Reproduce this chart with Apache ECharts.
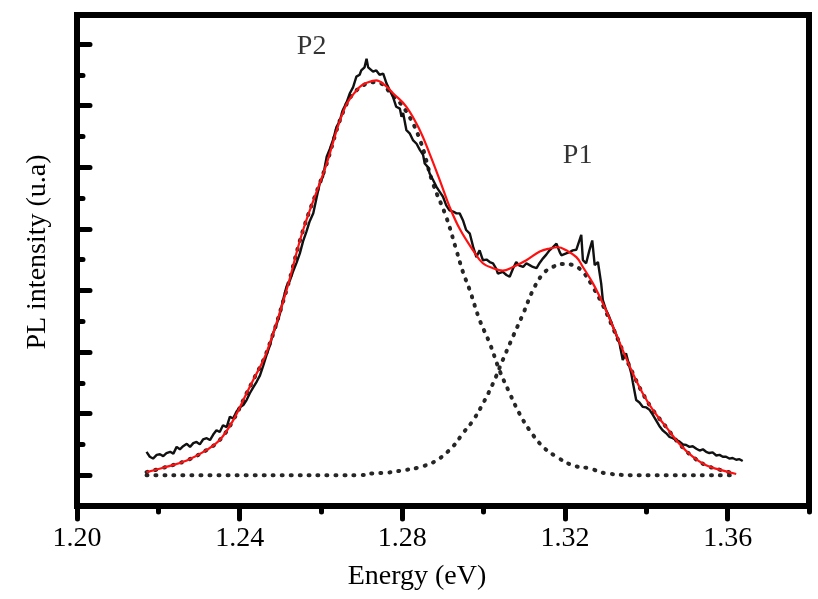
<!DOCTYPE html>
<html><head><meta charset="utf-8">
<script src="https://cdn.jsdelivr.net/npm/echarts@6/dist/echarts.min.js"></script>
<style>html,body{margin:0;padding:0;background:#fff}#c{width:818px;height:599px}</style>
</head><body><div id="c"></div>
<script>
// Tick positions
const xMajorTicks = [1.20, 1.24, 1.28, 1.32, 1.36];
const xMinorTicks = [1.22, 1.26, 1.30, 1.34, 1.38];
const yMajorTicks = [0, 1, 2, 3, 4, 5, 6, 7];
const yMinorTicks = [0.5, 1.5, 2.5, 3.5, 4.5, 5.5, 6.5];

// Measured PL spectrum [energy eV, intensity a.u.]
const measured = [
[1.2171,0.38],[1.2179,0.30],[1.2187,0.27],[1.2196,0.33],[1.2204,0.34],[1.2212,0.31],[1.2220,0.36],[1.2229,0.38],
[1.2237,0.35],[1.2245,0.46],[1.2253,0.42],[1.2261,0.47],[1.2270,0.51],[1.2278,0.46],[1.2286,0.52],[1.2294,0.54],
[1.2302,0.50],[1.2310,0.58],[1.2319,0.60],[1.2327,0.57],[1.2335,0.66],[1.2343,0.73],[1.2351,0.70],[1.2359,0.81],
[1.2368,0.78],[1.2376,0.95],[1.2384,0.92],[1.2392,1.03],[1.2400,1.10],[1.2409,1.14],[1.2417,1.22],[1.2425,1.33],
[1.2433,1.42],[1.2442,1.52],[1.2450,1.62],[1.2458,1.78],[1.2466,1.95],[1.2474,2.10],[1.2482,2.30],[1.2491,2.45],
[1.2499,2.62],[1.2507,2.85],[1.2515,3.06],[1.2523,3.15],[1.2531,3.30],[1.2540,3.45],[1.2548,3.60],[1.2556,3.80],
[1.2564,3.95],[1.2572,4.12],[1.2581,4.25],[1.2589,4.50],[1.2597,4.74],[1.2605,4.85],[1.2614,5.17],[1.2622,5.30],
[1.2630,5.45],[1.2638,5.65],[1.2646,5.75],[1.2654,5.93],[1.2663,6.05],[1.2671,6.20],[1.2679,6.30],[1.2687,6.47],
[1.2695,6.50],[1.2699,6.57],[1.2703,6.55],[1.2707,6.62],[1.2712,6.76],[1.2716,6.62],[1.2720,6.60],[1.2728,6.55],
[1.2736,6.57],[1.2744,6.50],[1.2753,6.52],[1.2761,6.36],[1.2769,6.25],[1.2777,6.14],[1.2785,5.98],[1.2794,5.95],
[1.2798,5.82],[1.2802,5.88],[1.2810,5.60],[1.2818,5.55],[1.2826,5.44],[1.2835,5.38],[1.2843,5.28],[1.2851,5.20],
[1.2855,5.06],[1.2863,5.00],[1.2867,4.90],[1.2875,4.80],[1.2884,4.68],[1.2892,4.60],[1.2900,4.52],[1.2908,4.38],
[1.2916,4.30],[1.2925,4.28],[1.2933,4.25],[1.2941,4.25],[1.2949,4.14],[1.2957,3.98],[1.2966,3.92],[1.2974,3.71],
[1.2982,3.54],[1.2990,3.65],[1.2998,3.49],[1.3007,3.50],[1.3015,3.46],[1.3023,3.44],[1.3031,3.35],[1.3035,3.27],
[1.3047,3.30],[1.3056,3.25],[1.3064,3.22],[1.3072,3.35],[1.3080,3.46],[1.3088,3.40],[1.3097,3.38],[1.3105,3.44],
[1.3113,3.41],[1.3121,3.38],[1.3130,3.36],[1.3138,3.45],[1.3146,3.52],[1.3154,3.58],[1.3162,3.65],[1.3170,3.70],
[1.3179,3.76],[1.3187,3.62],[1.3191,3.57],[1.3203,3.60],[1.3211,3.62],[1.3219,3.65],[1.3228,3.66],[1.3232,3.68],
[1.3240,3.90],[1.3244,3.49],[1.3252,3.44],[1.3260,3.65],[1.3267,3.81],[1.3273,3.41],[1.3281,3.46],[1.3289,3.11],
[1.3293,2.84],[1.3301,2.68],[1.3310,2.55],[1.3318,2.41],[1.3326,2.28],[1.3334,2.14],[1.3342,1.87],[1.3350,1.98],
[1.3359,1.75],[1.3363,1.65],[1.3367,1.50],[1.3375,1.22],[1.3383,1.18],[1.3391,1.11],[1.3400,1.10],[1.3408,1.06],
[1.3416,0.98],[1.3424,0.89],[1.3432,0.80],[1.3440,0.73],[1.3449,0.68],[1.3457,0.62],[1.3465,0.60],[1.3473,0.57],
[1.3481,0.55],[1.3490,0.50],[1.3498,0.49],[1.3506,0.46],[1.3514,0.47],[1.3523,0.43],[1.3531,0.40],[1.3539,0.42],
[1.3547,0.38],[1.3555,0.36],[1.3563,0.37],[1.3572,0.32],[1.3580,0.33],[1.3588,0.30],[1.3596,0.30],[1.3604,0.27],
[1.3612,0.28],[1.3621,0.25],[1.3629,0.26],[1.3637,0.23]
];

// Total fit (red)
const fitTotal = [
[1.2171,0.05],[1.2212,0.12],[1.2270,0.24],[1.2319,0.41],[1.2351,0.57],[1.2384,0.89],[1.2417,1.33],[1.2433,1.54],
[1.2466,1.99],[1.2515,3.00],[1.2556,3.98],[1.2610,4.98],[1.2659,5.97],[1.2695,6.30],[1.2716,6.38],[1.2736,6.41],
[1.2757,6.33],[1.2777,6.20],[1.2810,5.98],[1.2843,5.60],[1.2867,5.22],[1.2892,4.79],[1.2916,4.36],[1.2941,4.00],
[1.2974,3.65],[1.2998,3.44],[1.3023,3.36],[1.3047,3.32],[1.3072,3.38],[1.3105,3.49],[1.3138,3.63],[1.3162,3.68],
[1.3183,3.70],[1.3203,3.65],[1.3228,3.54],[1.3244,3.38],[1.3269,3.11],[1.3293,2.79],[1.3318,2.41],[1.3342,2.03],
[1.3367,1.65],[1.3391,1.33],[1.3416,1.06],[1.3449,0.78],[1.3481,0.51],[1.3514,0.30],[1.3547,0.16],[1.3580,0.09],
[1.3621,0.02]
];

// Gaussian component P2 (dotted)
const peakP2 = [
[1.2171,0.05],[1.2212,0.12],[1.2270,0.24],[1.2319,0.41],[1.2351,0.57],[1.2384,0.89],[1.2417,1.33],[1.2433,1.54],
[1.2466,1.99],[1.2515,3.00],[1.2556,3.98],[1.2610,4.98],[1.2659,5.97],[1.2695,6.29],[1.2736,6.38],[1.2777,6.16],
[1.2810,5.90],[1.2843,5.45],[1.2875,4.74],[1.2908,4.19],[1.2933,3.65],[1.2949,3.30],[1.2966,3.00],[1.2990,2.52],
[1.3015,2.14],[1.3039,1.70],[1.3064,1.33],[1.3088,1.00],[1.3113,0.73],[1.3146,0.46],[1.3179,0.30],[1.3219,0.16],
[1.3260,0.11],[1.3301,0.03],[1.3383,0.00],[1.3621,0.00]
];

// Gaussian component P1 (dotted)
const peakP1 = [
[1.2171,0.00],[1.2450,0.00],[1.2695,0.00],[1.2728,0.03],[1.2761,0.04],[1.2802,0.08],[1.2843,0.13],[1.2884,0.24],
[1.2925,0.47],[1.2949,0.68],[1.2974,0.89],[1.2998,1.16],[1.3023,1.49],[1.3047,1.87],[1.3072,2.25],[1.3097,2.62],
[1.3121,3.00],[1.3146,3.27],[1.3170,3.38],[1.3195,3.43],[1.3219,3.41],[1.3244,3.30],[1.3269,3.05],[1.3293,2.76],
[1.3318,2.39],[1.3342,2.02],[1.3367,1.65],[1.3391,1.33],[1.3416,1.06],[1.3449,0.78],[1.3481,0.51],[1.3514,0.30],
[1.3547,0.16],[1.3580,0.09],[1.3621,0.02]
];

// Peak annotations
const peakLabels = [[1.2577, 6.95, 'P2'], [1.3231, 5.19, 'P1']];

const FONT = '"Liberation Serif", "Times New Roman", serif';
const chart = echarts.init(document.getElementById('c'));

const baseX = { type: 'value', min: 1.20, max: 1.38, splitLine: { show: false }, axisLine: { show: false, onZero: false } };
const baseY = { type: 'value', min: -0.5, max: 7.47, splitLine: { show: false }, axisLine: { show: false, onZero: false }, axisLabel: { show: false } };
const tickStyle = { color: '#000', width: 5, cap: 'round' };
const dotStyle = { color: '#262626', width: 4, type: [1, 8], cap: 'round' };

chart.setOption({
  animation: false,
  backgroundColor: '#fff',
  grid: [
    { left: 77, right: 9, top: 15, bottom: 93, show: true, borderColor: '#000', borderWidth: 6, backgroundColor: 'transparent' },
    { left: 77, right: 9, top: 15, bottom: 93, show: false }
  ],
  xAxis: [
    Object.assign({}, baseX, {
      gridIndex: 0, position: 'bottom',
      axisTick: { show: true, customValues: xMajorTicks, inside: false, length: 13, lineStyle: tickStyle },
      axisLabel: { show: true, customValues: xMajorTicks, formatter: v => v.toFixed(2), margin: 19,
        fontFamily: FONT, fontSize: 28, color: '#000' }
    }),
    Object.assign({}, baseX, {
      gridIndex: 1, position: 'bottom',
      axisTick: { show: true, customValues: xMinorTicks, inside: false, length: 6, lineStyle: tickStyle },
      axisLabel: { show: false }
    })
  ],
  yAxis: [
    Object.assign({}, baseY, {
      gridIndex: 0, position: 'left',
      axisTick: { show: true, customValues: yMajorTicks, inside: true, length: 13, lineStyle: tickStyle }
    }),
    Object.assign({}, baseY, {
      gridIndex: 1, position: 'left',
      axisTick: { show: true, customValues: yMinorTicks, inside: true, length: 6, lineStyle: tickStyle }
    })
  ],
  series: [
    { name: 'P2', type: 'line', xAxisIndex: 0, yAxisIndex: 0, data: peakP2, showSymbol: false, smooth: 0.4,
      lineStyle: dotStyle, z: 2 },
    { name: 'P1', type: 'line', xAxisIndex: 0, yAxisIndex: 0, data: peakP1, showSymbol: false, smooth: 0.4,
      lineStyle: dotStyle, z: 2 },
    { name: 'Measured', type: 'line', xAxisIndex: 0, yAxisIndex: 0, data: measured, showSymbol: false,
      lineStyle: { color: '#111', width: 2.4 }, z: 3 },
    { name: 'Fit', type: 'line', xAxisIndex: 0, yAxisIndex: 0, data: fitTotal, showSymbol: false, smooth: 0.4,
      lineStyle: { color: '#ff1010', width: 2.2 }, z: 4 },
    { name: 'labels', type: 'scatter', xAxisIndex: 0, yAxisIndex: 0, data: peakLabels, symbolSize: 1,
      itemStyle: { color: 'rgba(0,0,0,0)' }, silent: true,
      label: { show: true, position: 'inside', formatter: p => p.data[2], fontFamily: FONT, fontSize: 28, color: '#000' }, z: 5 }
  ],
  graphic: [
    { type: 'text', x: 417, y: 577, style: { text: 'Energy (eV)', font: '28px ' + FONT, fill: '#000',
      align: 'center', verticalAlign: 'middle', textAlign: 'center', textVerticalAlign: 'middle' } },
    { type: 'text', x: 38, y: 252, rotation: Math.PI / 2, style: { text: 'PL intensity (u.a)', font: '28px ' + FONT, fill: '#000',
      align: 'center', verticalAlign: 'middle', textAlign: 'center', textVerticalAlign: 'middle' } }
  ]
});
</script>
</body></html>
